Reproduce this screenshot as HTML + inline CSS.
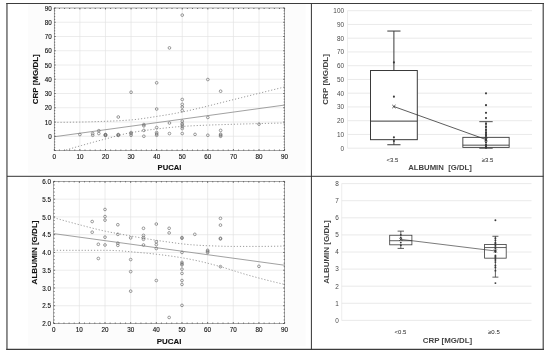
<!DOCTYPE html>
<html lang="en">
<head>
<meta charset="utf-8">
<title>CRP, albumin and PUCAI</title>
<style>
html,body{margin:0;padding:0;background:#ffffff;}
body{width:550px;height:354px;overflow:hidden;font-family:"Liberation Sans",Arial,sans-serif;}
svg{display:block;}
</style>
</head>
<body>
<svg width="550" height="354" viewBox="0 0 550 354">
<rect x="0" y="0" width="550" height="354" fill="#ffffff"/>
<rect x="28" y="4" width="277.5" height="169" fill="#fcfcfc"/>
<rect x="28" y="177" width="277.5" height="169" fill="#fcfcfc"/>
<g>
<rect x="54.3" y="8" width="230.3" height="142.5" fill="#ffffff"/>
<path d="M79.89 8V150.5M105.48 8V150.5M131.07 8V150.5M156.66 8V150.5M182.24 8V150.5M207.83 8V150.5M233.42 8V150.5M259.01 8V150.5M54.3 136.25H284.6M54.3 122H284.6M54.3 107.75H284.6M54.3 93.5H284.6M54.3 79.25H284.6M54.3 65H284.6M54.3 50.75H284.6M54.3 36.5H284.6M54.3 22.25H284.6" stroke="#e2e2e2" stroke-width="0.65" fill="none"/>
<clipPath id="c8"><rect x="54.3" y="8" width="230.3" height="142.5"/></clipPath>
<g clip-path="url(#c8)">
<path d="M54.3 122.36 L58.2 122.34 L62.11 122.31 L66.01 122.27 L69.91 122.22 L73.82 122.17 L77.72 122.11 L81.62 122.04 L85.53 121.96 L89.43 121.85 L93.33 121.73 L97.24 121.6 L101.14 121.45 L105.04 121.3 L108.95 121.15 L112.85 120.99 L116.75 120.81 L120.66 120.61 L124.56 120.38 L128.46 120.12 L132.37 119.81 L136.27 119.41 L140.17 118.92 L144.08 118.37 L147.98 117.78 L151.88 117.18 L155.79 116.57 L159.69 115.98 L163.59 115.36 L167.5 114.72 L171.4 114.05 L175.31 113.35 L179.21 112.62 L183.11 111.85 L187.02 111.01 L190.92 110.11 L194.82 109.18 L198.73 108.24 L202.63 107.3 L206.53 106.35 L210.44 105.39 L214.34 104.41 L218.24 103.44 L222.15 102.45 L226.05 101.47 L229.95 100.49 L233.86 99.52 L237.76 98.55 L241.66 97.58 L245.57 96.61 L249.47 95.65 L253.37 94.68 L257.28 93.71 L261.18 92.74 L265.08 91.78 L268.99 90.81 L272.89 89.84 L276.79 88.88 L280.7 87.91 L284.6 86.94" stroke="#8a8a8a" stroke-width="0.85" stroke-dasharray="1.2 1.9" fill="none"/>
<path d="M54.3 153.92 L58.2 152.58 L62.11 151.28 L66.01 150.04 L69.91 148.85 L73.82 147.7 L77.72 146.58 L81.62 145.47 L85.53 144.37 L89.43 143.28 L93.33 142.2 L97.24 141.14 L101.14 140.1 L105.04 139.07 L108.95 138.04 L112.85 136.98 L116.75 135.92 L120.66 134.91 L124.56 133.97 L128.46 133.13 L132.37 132.41 L136.27 131.76 L140.17 131.15 L144.08 130.59 L147.98 130.06 L151.88 129.56 L155.79 129.09 L159.69 128.63 L163.59 128.18 L167.5 127.75 L171.4 127.35 L175.31 126.98 L179.21 126.65 L183.11 126.36 L187.02 126.1 L190.92 125.87 L194.82 125.67 L198.73 125.48 L202.63 125.31 L206.53 125.16 L210.44 125.01 L214.34 124.87 L218.24 124.74 L222.15 124.62 L226.05 124.5 L229.95 124.38 L233.86 124.27 L237.76 124.15 L241.66 124.04 L245.57 123.93 L249.47 123.83 L253.37 123.72 L257.28 123.62 L261.18 123.52 L265.08 123.43 L268.99 123.33 L272.89 123.24 L276.79 123.16 L280.7 123.08 L284.6 123" stroke="#8a8a8a" stroke-width="0.85" stroke-dasharray="1.2 1.9" fill="none"/>
<path d="M54.3 136.75L284.6 105.04" stroke="#909090" stroke-width="0.85" fill="none"/>
<circle cx="182.24" cy="15.12" r="1.35" fill="none" stroke="#707070" stroke-width="0.7"/>
<circle cx="169.45" cy="47.9" r="1.35" fill="none" stroke="#707070" stroke-width="0.7"/>
<circle cx="156.66" cy="82.81" r="1.35" fill="none" stroke="#707070" stroke-width="0.7"/>
<circle cx="207.83" cy="79.53" r="1.35" fill="none" stroke="#707070" stroke-width="0.7"/>
<circle cx="131.07" cy="92.22" r="1.35" fill="none" stroke="#707070" stroke-width="0.7"/>
<circle cx="220.63" cy="91.22" r="1.35" fill="none" stroke="#707070" stroke-width="0.7"/>
<circle cx="182.24" cy="99.48" r="1.35" fill="none" stroke="#707070" stroke-width="0.7"/>
<circle cx="182.24" cy="104.33" r="1.35" fill="none" stroke="#707070" stroke-width="0.7"/>
<circle cx="182.24" cy="107.04" r="1.35" fill="none" stroke="#707070" stroke-width="0.7"/>
<circle cx="182.24" cy="110.6" r="1.35" fill="none" stroke="#707070" stroke-width="0.7"/>
<circle cx="156.66" cy="109.03" r="1.35" fill="none" stroke="#707070" stroke-width="0.7"/>
<circle cx="118.27" cy="117.01" r="1.35" fill="none" stroke="#707070" stroke-width="0.7"/>
<circle cx="207.83" cy="117.44" r="1.35" fill="none" stroke="#707070" stroke-width="0.7"/>
<circle cx="182.24" cy="121.14" r="1.35" fill="none" stroke="#707070" stroke-width="0.7"/>
<circle cx="182.24" cy="123.57" r="1.35" fill="none" stroke="#707070" stroke-width="0.7"/>
<circle cx="182.24" cy="124.85" r="1.35" fill="none" stroke="#707070" stroke-width="0.7"/>
<circle cx="182.24" cy="126.7" r="1.35" fill="none" stroke="#707070" stroke-width="0.7"/>
<circle cx="182.24" cy="128.56" r="1.35" fill="none" stroke="#707070" stroke-width="0.7"/>
<circle cx="182.24" cy="133.54" r="1.35" fill="none" stroke="#707070" stroke-width="0.7"/>
<circle cx="169.45" cy="123" r="1.35" fill="none" stroke="#707070" stroke-width="0.7"/>
<circle cx="169.45" cy="133.54" r="1.35" fill="none" stroke="#707070" stroke-width="0.7"/>
<circle cx="156.66" cy="127.56" r="1.35" fill="none" stroke="#707070" stroke-width="0.7"/>
<circle cx="156.66" cy="132.55" r="1.35" fill="none" stroke="#707070" stroke-width="0.7"/>
<circle cx="156.66" cy="133.97" r="1.35" fill="none" stroke="#707070" stroke-width="0.7"/>
<circle cx="156.66" cy="135.25" r="1.35" fill="none" stroke="#707070" stroke-width="0.7"/>
<circle cx="143.86" cy="124.56" r="1.35" fill="none" stroke="#707070" stroke-width="0.7"/>
<circle cx="143.86" cy="125.85" r="1.35" fill="none" stroke="#707070" stroke-width="0.7"/>
<circle cx="143.86" cy="130.41" r="1.35" fill="none" stroke="#707070" stroke-width="0.7"/>
<circle cx="143.86" cy="136.25" r="1.35" fill="none" stroke="#707070" stroke-width="0.7"/>
<circle cx="131.07" cy="132.55" r="1.35" fill="none" stroke="#707070" stroke-width="0.7"/>
<circle cx="131.07" cy="133.69" r="1.35" fill="none" stroke="#707070" stroke-width="0.7"/>
<circle cx="131.07" cy="135.25" r="1.35" fill="none" stroke="#707070" stroke-width="0.7"/>
<circle cx="118.27" cy="134.54" r="1.35" fill="none" stroke="#707070" stroke-width="0.7"/>
<circle cx="118.27" cy="135.4" r="1.35" fill="none" stroke="#707070" stroke-width="0.7"/>
<circle cx="118.27" cy="134.97" r="1.35" fill="none" stroke="#707070" stroke-width="0.7"/>
<circle cx="105.48" cy="134.54" r="1.35" fill="none" stroke="#707070" stroke-width="0.7"/>
<circle cx="105.48" cy="135.54" r="1.35" fill="none" stroke="#707070" stroke-width="0.7"/>
<circle cx="105.48" cy="135.11" r="1.35" fill="none" stroke="#707070" stroke-width="0.7"/>
<circle cx="105.48" cy="134.82" r="1.35" fill="none" stroke="#707070" stroke-width="0.7"/>
<circle cx="98.82" cy="130.69" r="1.35" fill="none" stroke="#707070" stroke-width="0.7"/>
<circle cx="98.82" cy="133.54" r="1.35" fill="none" stroke="#707070" stroke-width="0.7"/>
<circle cx="92.68" cy="133.54" r="1.35" fill="none" stroke="#707070" stroke-width="0.7"/>
<circle cx="92.68" cy="135.25" r="1.35" fill="none" stroke="#707070" stroke-width="0.7"/>
<circle cx="79.89" cy="134.54" r="1.35" fill="none" stroke="#707070" stroke-width="0.7"/>
<circle cx="195.04" cy="134.4" r="1.35" fill="none" stroke="#707070" stroke-width="0.7"/>
<circle cx="207.83" cy="135.25" r="1.35" fill="none" stroke="#707070" stroke-width="0.7"/>
<circle cx="220.63" cy="130.41" r="1.35" fill="none" stroke="#707070" stroke-width="0.7"/>
<circle cx="220.63" cy="134.25" r="1.35" fill="none" stroke="#707070" stroke-width="0.7"/>
<circle cx="220.63" cy="135.25" r="1.35" fill="none" stroke="#707070" stroke-width="0.7"/>
<circle cx="220.63" cy="136.25" r="1.35" fill="none" stroke="#707070" stroke-width="0.7"/>
<circle cx="259.01" cy="124.14" r="1.35" fill="none" stroke="#707070" stroke-width="0.7"/>
</g>
<rect x="54.3" y="8" width="230.3" height="142.5" fill="none" stroke="#747474" stroke-width="0.65"/>
<path d="M54.3 8v1.4M54.3 150.5v-1.4M59.42 8v0.9M59.42 150.5v-0.9M64.54 8v0.9M64.54 150.5v-0.9M69.65 8v0.9M69.65 150.5v-0.9M74.77 8v0.9M74.77 150.5v-0.9M79.89 8v1.4M79.89 150.5v-1.4M85.01 8v0.9M85.01 150.5v-0.9M90.12 8v0.9M90.12 150.5v-0.9M95.24 8v0.9M95.24 150.5v-0.9M100.36 8v0.9M100.36 150.5v-0.9M105.48 8v1.4M105.48 150.5v-1.4M110.6 8v0.9M110.6 150.5v-0.9M115.71 8v0.9M115.71 150.5v-0.9M120.83 8v0.9M120.83 150.5v-0.9M125.95 8v0.9M125.95 150.5v-0.9M131.07 8v1.4M131.07 150.5v-1.4M136.18 8v0.9M136.18 150.5v-0.9M141.3 8v0.9M141.3 150.5v-0.9M146.42 8v0.9M146.42 150.5v-0.9M151.54 8v0.9M151.54 150.5v-0.9M156.66 8v1.4M156.66 150.5v-1.4M161.77 8v0.9M161.77 150.5v-0.9M166.89 8v0.9M166.89 150.5v-0.9M172.01 8v0.9M172.01 150.5v-0.9M177.13 8v0.9M177.13 150.5v-0.9M182.24 8v1.4M182.24 150.5v-1.4M187.36 8v0.9M187.36 150.5v-0.9M192.48 8v0.9M192.48 150.5v-0.9M197.6 8v0.9M197.6 150.5v-0.9M202.72 8v0.9M202.72 150.5v-0.9M207.83 8v1.4M207.83 150.5v-1.4M212.95 8v0.9M212.95 150.5v-0.9M218.07 8v0.9M218.07 150.5v-0.9M223.19 8v0.9M223.19 150.5v-0.9M228.3 8v0.9M228.3 150.5v-0.9M233.42 8v1.4M233.42 150.5v-1.4M238.54 8v0.9M238.54 150.5v-0.9M243.66 8v0.9M243.66 150.5v-0.9M248.78 8v0.9M248.78 150.5v-0.9M253.89 8v0.9M253.89 150.5v-0.9M259.01 8v1.4M259.01 150.5v-1.4M264.13 8v0.9M264.13 150.5v-0.9M269.25 8v0.9M269.25 150.5v-0.9M274.36 8v0.9M274.36 150.5v-0.9M279.48 8v0.9M279.48 150.5v-0.9M284.6 8v1.4M284.6 150.5v-1.4M54.3 150.5h1.4M284.6 150.5h-1.4M54.3 147.65h0.9M284.6 147.65h-0.9M54.3 144.8h0.9M284.6 144.8h-0.9M54.3 141.95h0.9M284.6 141.95h-0.9M54.3 139.1h0.9M284.6 139.1h-0.9M54.3 136.25h1.4M284.6 136.25h-1.4M54.3 133.4h0.9M284.6 133.4h-0.9M54.3 130.55h0.9M284.6 130.55h-0.9M54.3 127.7h0.9M284.6 127.7h-0.9M54.3 124.85h0.9M284.6 124.85h-0.9M54.3 122h1.4M284.6 122h-1.4M54.3 119.15h0.9M284.6 119.15h-0.9M54.3 116.3h0.9M284.6 116.3h-0.9M54.3 113.45h0.9M284.6 113.45h-0.9M54.3 110.6h0.9M284.6 110.6h-0.9M54.3 107.75h1.4M284.6 107.75h-1.4M54.3 104.9h0.9M284.6 104.9h-0.9M54.3 102.05h0.9M284.6 102.05h-0.9M54.3 99.2h0.9M284.6 99.2h-0.9M54.3 96.35h0.9M284.6 96.35h-0.9M54.3 93.5h1.4M284.6 93.5h-1.4M54.3 90.65h0.9M284.6 90.65h-0.9M54.3 87.8h0.9M284.6 87.8h-0.9M54.3 84.95h0.9M284.6 84.95h-0.9M54.3 82.1h0.9M284.6 82.1h-0.9M54.3 79.25h1.4M284.6 79.25h-1.4M54.3 76.4h0.9M284.6 76.4h-0.9M54.3 73.55h0.9M284.6 73.55h-0.9M54.3 70.7h0.9M284.6 70.7h-0.9M54.3 67.85h0.9M284.6 67.85h-0.9M54.3 65h1.4M284.6 65h-1.4M54.3 62.15h0.9M284.6 62.15h-0.9M54.3 59.3h0.9M284.6 59.3h-0.9M54.3 56.45h0.9M284.6 56.45h-0.9M54.3 53.6h0.9M284.6 53.6h-0.9M54.3 50.75h1.4M284.6 50.75h-1.4M54.3 47.9h0.9M284.6 47.9h-0.9M54.3 45.05h0.9M284.6 45.05h-0.9M54.3 42.2h0.9M284.6 42.2h-0.9M54.3 39.35h0.9M284.6 39.35h-0.9M54.3 36.5h1.4M284.6 36.5h-1.4M54.3 33.65h0.9M284.6 33.65h-0.9M54.3 30.8h0.9M284.6 30.8h-0.9M54.3 27.95h0.9M284.6 27.95h-0.9M54.3 25.1h0.9M284.6 25.1h-0.9M54.3 22.25h1.4M284.6 22.25h-1.4M54.3 19.4h0.9M284.6 19.4h-0.9M54.3 16.55h0.9M284.6 16.55h-0.9M54.3 13.7h0.9M284.6 13.7h-0.9M54.3 10.85h0.9M284.6 10.85h-0.9M54.3 8h1.4M284.6 8h-1.4" stroke="#3a3a3a" stroke-width="0.8" fill="none"/>
<g font-family='"Liberation Sans", Arial, sans-serif' font-size="6.3" fill="#111111" stroke="#111111" stroke-width="0.12">
<text x="54.3" y="158.9" text-anchor="middle">0</text>
<text x="79.89" y="158.9" text-anchor="middle">10</text>
<text x="105.48" y="158.9" text-anchor="middle">20</text>
<text x="131.07" y="158.9" text-anchor="middle">30</text>
<text x="156.66" y="158.9" text-anchor="middle">40</text>
<text x="182.24" y="158.9" text-anchor="middle">50</text>
<text x="207.83" y="158.9" text-anchor="middle">60</text>
<text x="233.42" y="158.9" text-anchor="middle">70</text>
<text x="259.01" y="158.9" text-anchor="middle">80</text>
<text x="284.6" y="158.9" text-anchor="middle">90</text>
<text x="51.8" y="138.85" text-anchor="end">0</text>
<text x="51.8" y="124.6" text-anchor="end">10</text>
<text x="51.8" y="110.35" text-anchor="end">20</text>
<text x="51.8" y="96.1" text-anchor="end">30</text>
<text x="51.8" y="81.85" text-anchor="end">40</text>
<text x="51.8" y="67.6" text-anchor="end">50</text>
<text x="51.8" y="53.35" text-anchor="end">60</text>
<text x="51.8" y="39.1" text-anchor="end">70</text>
<text x="51.8" y="24.85" text-anchor="end">80</text>
<text x="51.8" y="10.6" text-anchor="end">90</text>
</g>
<text font-family='"Liberation Sans", Arial, sans-serif' font-weight="bold" font-size="8" fill="#111" stroke="#111" stroke-width="0.12" text-anchor="middle" transform="translate(37.7 79.25) rotate(-90)">CRP [MG/DL]</text>
<text font-family='"Liberation Sans", Arial, sans-serif' font-weight="bold" font-size="7.65" fill="#111" stroke="#111" stroke-width="0.12" text-anchor="middle" x="169.45" y="170.4">PUCAI</text>
</g>
<g>
<rect x="53.7" y="181.4" width="230.9" height="142.1" fill="#ffffff"/>
<path d="M79.36 181.4V323.5M105.01 181.4V323.5M130.67 181.4V323.5M156.32 181.4V323.5M181.98 181.4V323.5M207.63 181.4V323.5M233.29 181.4V323.5M258.94 181.4V323.5M53.7 305.74H284.6M53.7 287.98H284.6M53.7 270.21H284.6M53.7 252.45H284.6M53.7 234.69H284.6M53.7 216.93H284.6M53.7 199.16H284.6" stroke="#e2e2e2" stroke-width="0.65" fill="none"/>
<clipPath id="c181"><rect x="53.7" y="181.4" width="230.9" height="142.1"/></clipPath>
<g clip-path="url(#c181)">
<path d="M53.7 217.64 L57.61 218.77 L61.53 219.88 L65.44 220.98 L69.35 222.06 L73.27 223.12 L77.18 224.17 L81.09 225.2 L85.01 226.23 L88.92 227.25 L92.84 228.26 L96.75 229.23 L100.66 230.17 L104.58 231.04 L108.49 231.85 L112.4 232.6 L116.32 233.32 L120.23 234.04 L124.14 234.77 L128.06 235.5 L131.97 236.22 L135.88 236.93 L139.8 237.61 L143.71 238.28 L147.63 238.92 L151.54 239.55 L155.45 240.16 L159.37 240.75 L163.28 241.33 L167.19 241.88 L171.11 242.41 L175.02 242.95 L178.93 243.47 L182.85 243.96 L186.76 244.38 L190.67 244.71 L194.59 245 L198.5 245.25 L202.42 245.47 L206.33 245.65 L210.24 245.8 L214.16 245.95 L218.07 246.1 L221.98 246.23 L225.9 246.33 L229.81 246.39 L233.72 246.41 L237.64 246.41 L241.55 246.41 L245.46 246.41 L249.38 246.41 L253.29 246.41 L257.21 246.41 L261.12 246.41 L265.03 246.38 L268.95 246.34 L272.86 246.28 L276.77 246.21 L280.69 246.14 L284.6 246.06" stroke="#8a8a8a" stroke-width="0.85" stroke-dasharray="1.2 1.9" fill="none"/>
<path d="M53.7 250.32 L57.61 250.32 L61.53 250.32 L65.44 250.32 L69.35 250.32 L73.27 250.32 L77.18 250.32 L81.09 250.32 L85.01 250.32 L88.92 250.32 L92.84 250.32 L96.75 250.32 L100.66 250.32 L104.58 250.32 L108.49 250.35 L112.4 250.46 L116.32 250.61 L120.23 250.8 L124.14 251.12 L128.06 251.5 L131.97 251.86 L135.88 252.2 L139.8 252.56 L143.71 252.92 L147.63 253.3 L151.54 253.7 L155.45 254.13 L159.37 254.58 L163.28 255.06 L167.19 255.57 L171.11 256.11 L175.02 256.69 L178.93 257.29 L182.85 257.92 L186.76 258.62 L190.67 259.37 L194.59 260.17 L198.5 261.01 L202.42 261.9 L206.33 262.85 L210.24 263.86 L214.16 264.91 L218.07 265.99 L221.98 267.09 L225.9 268.26 L229.81 269.47 L233.72 270.72 L237.64 271.96 L241.55 273.18 L245.46 274.35 L249.38 275.45 L253.29 276.53 L257.21 277.6 L261.12 278.64 L265.03 279.66 L268.95 280.66 L272.86 281.64 L276.77 282.59 L280.69 283.52 L284.6 284.42" stroke="#8a8a8a" stroke-width="0.85" stroke-dasharray="1.2 1.9" fill="none"/>
<path d="M53.7 233.62L284.6 265.24" stroke="#909090" stroke-width="0.85" fill="none"/>
<circle cx="105.01" cy="209.46" r="1.35" fill="none" stroke="#707070" stroke-width="0.7"/>
<circle cx="105.01" cy="216.57" r="1.35" fill="none" stroke="#707070" stroke-width="0.7"/>
<circle cx="105.01" cy="220.12" r="1.35" fill="none" stroke="#707070" stroke-width="0.7"/>
<circle cx="92.18" cy="221.54" r="1.35" fill="none" stroke="#707070" stroke-width="0.7"/>
<circle cx="92.18" cy="232.2" r="1.35" fill="none" stroke="#707070" stroke-width="0.7"/>
<circle cx="117.84" cy="224.74" r="1.35" fill="none" stroke="#707070" stroke-width="0.7"/>
<circle cx="117.84" cy="234.33" r="1.35" fill="none" stroke="#707070" stroke-width="0.7"/>
<circle cx="105.01" cy="237.17" r="1.35" fill="none" stroke="#707070" stroke-width="0.7"/>
<circle cx="130.67" cy="237.88" r="1.35" fill="none" stroke="#707070" stroke-width="0.7"/>
<circle cx="98.34" cy="244.28" r="1.35" fill="none" stroke="#707070" stroke-width="0.7"/>
<circle cx="105.01" cy="244.99" r="1.35" fill="none" stroke="#707070" stroke-width="0.7"/>
<circle cx="117.84" cy="243.21" r="1.35" fill="none" stroke="#707070" stroke-width="0.7"/>
<circle cx="117.84" cy="245.34" r="1.35" fill="none" stroke="#707070" stroke-width="0.7"/>
<circle cx="98.34" cy="258.49" r="1.35" fill="none" stroke="#707070" stroke-width="0.7"/>
<circle cx="130.67" cy="259.56" r="1.35" fill="none" stroke="#707070" stroke-width="0.7"/>
<circle cx="130.67" cy="271.63" r="1.35" fill="none" stroke="#707070" stroke-width="0.7"/>
<circle cx="130.67" cy="291.17" r="1.35" fill="none" stroke="#707070" stroke-width="0.7"/>
<circle cx="143.49" cy="228.29" r="1.35" fill="none" stroke="#707070" stroke-width="0.7"/>
<circle cx="143.49" cy="235.4" r="1.35" fill="none" stroke="#707070" stroke-width="0.7"/>
<circle cx="143.49" cy="237.53" r="1.35" fill="none" stroke="#707070" stroke-width="0.7"/>
<circle cx="143.49" cy="239.31" r="1.35" fill="none" stroke="#707070" stroke-width="0.7"/>
<circle cx="143.49" cy="244.99" r="1.35" fill="none" stroke="#707070" stroke-width="0.7"/>
<circle cx="156.32" cy="224.03" r="1.35" fill="none" stroke="#707070" stroke-width="0.7"/>
<circle cx="156.32" cy="241.79" r="1.35" fill="none" stroke="#707070" stroke-width="0.7"/>
<circle cx="156.32" cy="244.63" r="1.35" fill="none" stroke="#707070" stroke-width="0.7"/>
<circle cx="156.32" cy="248.54" r="1.35" fill="none" stroke="#707070" stroke-width="0.7"/>
<circle cx="156.32" cy="280.51" r="1.35" fill="none" stroke="#707070" stroke-width="0.7"/>
<circle cx="169.15" cy="228.29" r="1.35" fill="none" stroke="#707070" stroke-width="0.7"/>
<circle cx="169.15" cy="232.91" r="1.35" fill="none" stroke="#707070" stroke-width="0.7"/>
<circle cx="169.15" cy="317.46" r="1.35" fill="none" stroke="#707070" stroke-width="0.7"/>
<circle cx="181.98" cy="237.53" r="1.35" fill="none" stroke="#707070" stroke-width="0.7"/>
<circle cx="181.98" cy="238.24" r="1.35" fill="none" stroke="#707070" stroke-width="0.7"/>
<circle cx="181.98" cy="252.45" r="1.35" fill="none" stroke="#707070" stroke-width="0.7"/>
<circle cx="181.98" cy="262.4" r="1.35" fill="none" stroke="#707070" stroke-width="0.7"/>
<circle cx="181.98" cy="263.82" r="1.35" fill="none" stroke="#707070" stroke-width="0.7"/>
<circle cx="181.98" cy="264.88" r="1.35" fill="none" stroke="#707070" stroke-width="0.7"/>
<circle cx="181.98" cy="269.15" r="1.35" fill="none" stroke="#707070" stroke-width="0.7"/>
<circle cx="181.98" cy="273.41" r="1.35" fill="none" stroke="#707070" stroke-width="0.7"/>
<circle cx="181.98" cy="280.51" r="1.35" fill="none" stroke="#707070" stroke-width="0.7"/>
<circle cx="181.98" cy="284.42" r="1.35" fill="none" stroke="#707070" stroke-width="0.7"/>
<circle cx="181.98" cy="305.38" r="1.35" fill="none" stroke="#707070" stroke-width="0.7"/>
<circle cx="194.81" cy="234.33" r="1.35" fill="none" stroke="#707070" stroke-width="0.7"/>
<circle cx="207.63" cy="250.32" r="1.35" fill="none" stroke="#707070" stroke-width="0.7"/>
<circle cx="207.63" cy="252.45" r="1.35" fill="none" stroke="#707070" stroke-width="0.7"/>
<circle cx="207.63" cy="251.38" r="1.35" fill="none" stroke="#707070" stroke-width="0.7"/>
<circle cx="220.46" cy="218.35" r="1.35" fill="none" stroke="#707070" stroke-width="0.7"/>
<circle cx="220.46" cy="225.1" r="1.35" fill="none" stroke="#707070" stroke-width="0.7"/>
<circle cx="220.46" cy="238.24" r="1.35" fill="none" stroke="#707070" stroke-width="0.7"/>
<circle cx="220.46" cy="238.95" r="1.35" fill="none" stroke="#707070" stroke-width="0.7"/>
<circle cx="220.46" cy="266.66" r="1.35" fill="none" stroke="#707070" stroke-width="0.7"/>
<circle cx="258.94" cy="266.3" r="1.35" fill="none" stroke="#707070" stroke-width="0.7"/>
</g>
<rect x="53.7" y="181.4" width="230.9" height="142.1" fill="none" stroke="#747474" stroke-width="0.65"/>
<path d="M53.7 181.4v1.4M53.7 323.5v-1.4M58.83 181.4v0.9M58.83 323.5v-0.9M63.96 181.4v0.9M63.96 323.5v-0.9M69.09 181.4v0.9M69.09 323.5v-0.9M74.22 181.4v0.9M74.22 323.5v-0.9M79.36 181.4v1.4M79.36 323.5v-1.4M84.49 181.4v0.9M84.49 323.5v-0.9M89.62 181.4v0.9M89.62 323.5v-0.9M94.75 181.4v0.9M94.75 323.5v-0.9M99.88 181.4v0.9M99.88 323.5v-0.9M105.01 181.4v1.4M105.01 323.5v-1.4M110.14 181.4v0.9M110.14 323.5v-0.9M115.27 181.4v0.9M115.27 323.5v-0.9M120.4 181.4v0.9M120.4 323.5v-0.9M125.54 181.4v0.9M125.54 323.5v-0.9M130.67 181.4v1.4M130.67 323.5v-1.4M135.8 181.4v0.9M135.8 323.5v-0.9M140.93 181.4v0.9M140.93 323.5v-0.9M146.06 181.4v0.9M146.06 323.5v-0.9M151.19 181.4v0.9M151.19 323.5v-0.9M156.32 181.4v1.4M156.32 323.5v-1.4M161.45 181.4v0.9M161.45 323.5v-0.9M166.58 181.4v0.9M166.58 323.5v-0.9M171.72 181.4v0.9M171.72 323.5v-0.9M176.85 181.4v0.9M176.85 323.5v-0.9M181.98 181.4v1.4M181.98 323.5v-1.4M187.11 181.4v0.9M187.11 323.5v-0.9M192.24 181.4v0.9M192.24 323.5v-0.9M197.37 181.4v0.9M197.37 323.5v-0.9M202.5 181.4v0.9M202.5 323.5v-0.9M207.63 181.4v1.4M207.63 323.5v-1.4M212.76 181.4v0.9M212.76 323.5v-0.9M217.9 181.4v0.9M217.9 323.5v-0.9M223.03 181.4v0.9M223.03 323.5v-0.9M228.16 181.4v0.9M228.16 323.5v-0.9M233.29 181.4v1.4M233.29 323.5v-1.4M238.42 181.4v0.9M238.42 323.5v-0.9M243.55 181.4v0.9M243.55 323.5v-0.9M248.68 181.4v0.9M248.68 323.5v-0.9M253.81 181.4v0.9M253.81 323.5v-0.9M258.94 181.4v1.4M258.94 323.5v-1.4M264.08 181.4v0.9M264.08 323.5v-0.9M269.21 181.4v0.9M269.21 323.5v-0.9M274.34 181.4v0.9M274.34 323.5v-0.9M279.47 181.4v0.9M279.47 323.5v-0.9M284.6 181.4v1.4M284.6 323.5v-1.4M53.7 323.5h1.4M284.6 323.5h-1.4M53.7 319.95h0.9M284.6 319.95h-0.9M53.7 316.39h0.9M284.6 316.39h-0.9M53.7 312.84h0.9M284.6 312.84h-0.9M53.7 309.29h0.9M284.6 309.29h-0.9M53.7 305.74h1.4M284.6 305.74h-1.4M53.7 302.19h0.9M284.6 302.19h-0.9M53.7 298.63h0.9M284.6 298.63h-0.9M53.7 295.08h0.9M284.6 295.08h-0.9M53.7 291.53h0.9M284.6 291.53h-0.9M53.7 287.98h1.4M284.6 287.98h-1.4M53.7 284.42h0.9M284.6 284.42h-0.9M53.7 280.87h0.9M284.6 280.87h-0.9M53.7 277.32h0.9M284.6 277.32h-0.9M53.7 273.76h0.9M284.6 273.76h-0.9M53.7 270.21h1.4M284.6 270.21h-1.4M53.7 266.66h0.9M284.6 266.66h-0.9M53.7 263.11h0.9M284.6 263.11h-0.9M53.7 259.56h0.9M284.6 259.56h-0.9M53.7 256h0.9M284.6 256h-0.9M53.7 252.45h1.4M284.6 252.45h-1.4M53.7 248.9h0.9M284.6 248.9h-0.9M53.7 245.34h0.9M284.6 245.34h-0.9M53.7 241.79h0.9M284.6 241.79h-0.9M53.7 238.24h0.9M284.6 238.24h-0.9M53.7 234.69h1.4M284.6 234.69h-1.4M53.7 231.14h0.9M284.6 231.14h-0.9M53.7 227.58h0.9M284.6 227.58h-0.9M53.7 224.03h0.9M284.6 224.03h-0.9M53.7 220.48h0.9M284.6 220.48h-0.9M53.7 216.93h1.4M284.6 216.93h-1.4M53.7 213.37h0.9M284.6 213.37h-0.9M53.7 209.82h0.9M284.6 209.82h-0.9M53.7 206.27h0.9M284.6 206.27h-0.9M53.7 202.71h0.9M284.6 202.71h-0.9M53.7 199.16h1.4M284.6 199.16h-1.4M53.7 195.61h0.9M284.6 195.61h-0.9M53.7 192.06h0.9M284.6 192.06h-0.9M53.7 188.5h0.9M284.6 188.5h-0.9M53.7 184.95h0.9M284.6 184.95h-0.9M53.7 181.4h1.4M284.6 181.4h-1.4" stroke="#3a3a3a" stroke-width="0.8" fill="none"/>
<g font-family='"Liberation Sans", Arial, sans-serif' font-size="6.3" fill="#111111" stroke="#111111" stroke-width="0.12">
<text x="53.7" y="332.1" text-anchor="middle">0</text>
<text x="79.36" y="332.1" text-anchor="middle">10</text>
<text x="105.01" y="332.1" text-anchor="middle">20</text>
<text x="130.67" y="332.1" text-anchor="middle">30</text>
<text x="156.32" y="332.1" text-anchor="middle">40</text>
<text x="181.98" y="332.1" text-anchor="middle">50</text>
<text x="207.63" y="332.1" text-anchor="middle">60</text>
<text x="233.29" y="332.1" text-anchor="middle">70</text>
<text x="258.94" y="332.1" text-anchor="middle">80</text>
<text x="284.6" y="332.1" text-anchor="middle">90</text>
<text x="51" y="326.1" text-anchor="end">2.0</text>
<text x="51" y="308.34" text-anchor="end">2.5</text>
<text x="51" y="290.58" text-anchor="end">3.0</text>
<text x="51" y="272.81" text-anchor="end">3.5</text>
<text x="51" y="255.05" text-anchor="end">4.0</text>
<text x="51" y="237.29" text-anchor="end">4.5</text>
<text x="51" y="219.53" text-anchor="end">5.0</text>
<text x="51" y="201.76" text-anchor="end">5.5</text>
<text x="51" y="184" text-anchor="end">6.0</text>
</g>
<text font-family='"Liberation Sans", Arial, sans-serif' font-weight="bold" font-size="8.05" fill="#111" stroke="#111" stroke-width="0.12" text-anchor="middle" transform="translate(37.1 252.45) rotate(-90)">ALBUMIN [G/DL]</text>
<text font-family='"Liberation Sans", Arial, sans-serif' font-weight="bold" font-size="7.9" fill="#111" stroke="#111" stroke-width="0.12" text-anchor="middle" x="169.15" y="344">PUCAI</text>
</g>
<g>
<path d="M347.5 148.2H532M347.5 134.45H532M347.5 120.7H532M347.5 106.95H532M347.5 93.2H532M347.5 79.45H532M347.5 65.7H532M347.5 51.95H532M347.5 38.2H532M347.5 24.45H532M347.5 10.7H532" stroke="#e5e5e5" stroke-width="0.8" fill="none"/>
<path d="M347.5 10.7V148.2" stroke="#e6e6e6" stroke-width="0.7" fill="none"/>
<g font-family='"Liberation Sans", Arial, sans-serif' font-size="6.4" fill="#4a4a4a">
<text x="344" y="150.5" text-anchor="end">0</text>
<text x="344" y="136.75" text-anchor="end">10</text>
<text x="344" y="123" text-anchor="end">20</text>
<text x="344" y="109.25" text-anchor="end">30</text>
<text x="344" y="95.5" text-anchor="end">40</text>
<text x="344" y="81.75" text-anchor="end">50</text>
<text x="344" y="68" text-anchor="end">60</text>
<text x="344" y="54.25" text-anchor="end">70</text>
<text x="344" y="40.5" text-anchor="end">80</text>
<text x="344" y="26.75" text-anchor="end">90</text>
<text x="344" y="13" text-anchor="end">100</text>
<text x="392.4" y="161.6" text-anchor="middle" font-size="6.0" fill="#222">&lt;3.5</text>
<text x="487.5" y="161.6" text-anchor="middle" font-size="6.0" fill="#222">&#8805;3.5</text>
</g>
<rect x="370.5" y="70.51" width="46.8" height="69.16" fill="#ffffff" stroke="#3a3a3a" stroke-width="1"/>
<path d="M387.3 31.05H400.5M393.9 31.05V70.51M387.3 144.76H400.5M393.9 144.76V139.67M370.5 121.11H417.3" stroke="#3a3a3a" stroke-width="1" fill="none"/>
<circle cx="393.9" cy="62.4" r="1.05" fill="#3a3a3a"/>
<circle cx="393.9" cy="96.64" r="1.05" fill="#3a3a3a"/>
<circle cx="393.9" cy="137.34" r="1.05" fill="#3a3a3a"/>
<circle cx="393.9" cy="141.05" r="1.05" fill="#3a3a3a"/>
<path d="M392.3 104.94l3.2 3.2M392.3 108.14l3.2 -3.2" stroke="#222" stroke-width="0.8" fill="none"/>
<rect x="462.85" y="137.34" width="46.3" height="10.04" fill="#ffffff" stroke="#3a3a3a" stroke-width="0.9"/>
<path d="M479.3 121.66H492.7M486 121.66V137.34M479.3 148.2H492.7M486 148.2V147.38M462.85 145.17H509.15" stroke="#3a3a3a" stroke-width="0.9" fill="none"/>
<circle cx="486" cy="93.34" r="1.05" fill="#3a3a3a"/>
<circle cx="486" cy="105.16" r="1.05" fill="#3a3a3a"/>
<circle cx="486" cy="112.86" r="1.05" fill="#3a3a3a"/>
<circle cx="486" cy="118.09" r="1.05" fill="#3a3a3a"/>
<circle cx="486" cy="123.86" r="1.05" fill="#3a3a3a"/>
<circle cx="486" cy="126.89" r="1.05" fill="#3a3a3a"/>
<circle cx="486" cy="129.91" r="1.05" fill="#3a3a3a"/>
<circle cx="486" cy="132.39" r="1.05" fill="#3a3a3a"/>
<circle cx="486" cy="134.17" r="1.05" fill="#3a3a3a"/>
<circle cx="486" cy="135.82" r="1.05" fill="#3a3a3a"/>
<circle cx="486" cy="137.2" r="1.05" fill="#3a3a3a"/>
<circle cx="486" cy="138.99" r="1.05" fill="#3a3a3a"/>
<circle cx="486" cy="140.77" r="1.05" fill="#3a3a3a"/>
<circle cx="486" cy="142.56" r="1.05" fill="#3a3a3a"/>
<circle cx="486" cy="144.62" r="1.05" fill="#3a3a3a"/>
<circle cx="486" cy="145.59" r="1.05" fill="#3a3a3a"/>
<circle cx="486" cy="146.41" r="1.05" fill="#3a3a3a"/>
<circle cx="486" cy="147.24" r="1.05" fill="#3a3a3a"/>
<circle cx="486" cy="147.79" r="1.05" fill="#3a3a3a"/>
<path d="M484.4 137.94l3.2 3.2M484.4 141.14l3.2 -3.2" stroke="#222" stroke-width="0.8" fill="none"/>
<path d="M393.9 106.54L486 139.54" stroke="#333" stroke-width="0.8" fill="none"/>
<text font-family='"Liberation Sans", Arial, sans-serif' font-weight="bold" font-size="8.1" fill="#444444" text-anchor="middle" transform="translate(328 79.45) rotate(-90)">CRP [MG/DL]</text>
<text font-family='"Liberation Sans", Arial, sans-serif' font-weight="bold" font-size="7.75" fill="#444444" text-anchor="middle" x="440" y="170.1" xml:space="preserve" style="white-space:pre">ALBUMIN  [G/DL]</text>
</g>
<g>
<path d="M341.7 320.4H531.5M341.7 303.3H531.5M341.7 286.2H531.5M341.7 269.1H531.5M341.7 252H531.5M341.7 234.9H531.5M341.7 217.8H531.5M341.7 200.7H531.5M341.7 183.6H531.5" stroke="#e5e5e5" stroke-width="0.8" fill="none"/>
<path d="M341.7 183.6V320.4" stroke="#e6e6e6" stroke-width="0.7" fill="none"/>
<g font-family='"Liberation Sans", Arial, sans-serif' font-size="6.4" fill="#4a4a4a">
<text x="338.8" y="322.7" text-anchor="end">0</text>
<text x="338.8" y="305.6" text-anchor="end">1</text>
<text x="338.8" y="288.5" text-anchor="end">2</text>
<text x="338.8" y="271.4" text-anchor="end">3</text>
<text x="338.8" y="254.3" text-anchor="end">4</text>
<text x="338.8" y="237.2" text-anchor="end">5</text>
<text x="338.8" y="220.1" text-anchor="end">6</text>
<text x="338.8" y="203" text-anchor="end">7</text>
<text x="338.8" y="185.9" text-anchor="end">8</text>
<text x="400.5" y="334.2" text-anchor="middle" font-size="6.0" fill="#222">&lt;0.5</text>
<text x="493.9" y="334.2" text-anchor="middle" font-size="6.0" fill="#222">&#8805;0.5</text>
</g>
<rect x="389.7" y="235.24" width="22.2" height="9.58" fill="#ffffff" stroke="#3a3a3a" stroke-width="0.8"/>
<path d="M397.6 231.14H404M400.8 231.14V235.24M397.6 248.41H404M400.8 248.41V244.82M389.7 240.71H411.9" stroke="#3a3a3a" stroke-width="0.8" fill="none"/>
<circle cx="400.8" cy="234.9" r="0.95" fill="#3a3a3a"/>
<circle cx="400.8" cy="237.46" r="0.95" fill="#3a3a3a"/>
<circle cx="400.8" cy="242.59" r="0.95" fill="#3a3a3a"/>
<circle cx="400.8" cy="245.16" r="0.95" fill="#3a3a3a"/>
<path d="M399.4 237.95l2.8 2.8M399.4 240.75l2.8 -2.8" stroke="#222" stroke-width="0.8" fill="none"/>
<rect x="484.6" y="244.48" width="21.6" height="13.68" fill="#ffffff" stroke="#3a3a3a" stroke-width="0.8"/>
<path d="M492.4 236.27H498.4M495.4 236.27V244.48M492.4 277.14H498.4M495.4 277.14V258.16M484.6 247.55H506.2" stroke="#3a3a3a" stroke-width="0.8" fill="none"/>
<circle cx="495.4" cy="220.19" r="0.95" fill="#3a3a3a"/>
<circle cx="495.4" cy="238.32" r="0.95" fill="#3a3a3a"/>
<circle cx="495.4" cy="240.37" r="0.95" fill="#3a3a3a"/>
<circle cx="495.4" cy="242.59" r="0.95" fill="#3a3a3a"/>
<circle cx="495.4" cy="243.79" r="0.95" fill="#3a3a3a"/>
<circle cx="495.4" cy="245.16" r="0.95" fill="#3a3a3a"/>
<circle cx="495.4" cy="246.87" r="0.95" fill="#3a3a3a"/>
<circle cx="495.4" cy="248.24" r="0.95" fill="#3a3a3a"/>
<circle cx="495.4" cy="250.12" r="0.95" fill="#3a3a3a"/>
<circle cx="495.4" cy="252" r="0.95" fill="#3a3a3a"/>
<circle cx="495.4" cy="255.42" r="0.95" fill="#3a3a3a"/>
<circle cx="495.4" cy="256.79" r="0.95" fill="#3a3a3a"/>
<circle cx="495.4" cy="257.98" r="0.95" fill="#3a3a3a"/>
<circle cx="495.4" cy="260.04" r="0.95" fill="#3a3a3a"/>
<circle cx="495.4" cy="262.09" r="0.95" fill="#3a3a3a"/>
<circle cx="495.4" cy="265.51" r="0.95" fill="#3a3a3a"/>
<circle cx="495.4" cy="267.39" r="0.95" fill="#3a3a3a"/>
<circle cx="495.4" cy="270.64" r="0.95" fill="#3a3a3a"/>
<circle cx="495.4" cy="283.12" r="0.95" fill="#3a3a3a"/>
<path d="M494 249.57l2.8 2.8M494 252.37l2.8 -2.8" stroke="#222" stroke-width="0.8" fill="none"/>
<path d="M400.8 239.35L495.4 250.97" stroke="#333" stroke-width="0.65" fill="none"/>
<text font-family='"Liberation Sans", Arial, sans-serif' font-weight="bold" font-size="8" fill="#444444" text-anchor="middle" transform="translate(328.8 252) rotate(-90)">ALBUMIN [G/DL]</text>
<text font-family='"Liberation Sans", Arial, sans-serif' font-weight="bold" font-size="7.9" fill="#444444" text-anchor="middle" x="447.5" y="342.9" xml:space="preserve" style="white-space:pre">CRP [MG/DL]</text>
</g>
<path d="M6.95 3V350M543.25 3V350" stroke="#626262" stroke-width="1.4" fill="none"/>
<path d="M6.3 3.5H544M6.3 349.4H544" stroke="#3c3c3c" stroke-width="1.15" fill="none"/>
<path d="M7 176.3H543.5M311.4 3.5V349.5" stroke="#333333" stroke-width="1.0" fill="none"/>
</svg>
</body>
</html>
